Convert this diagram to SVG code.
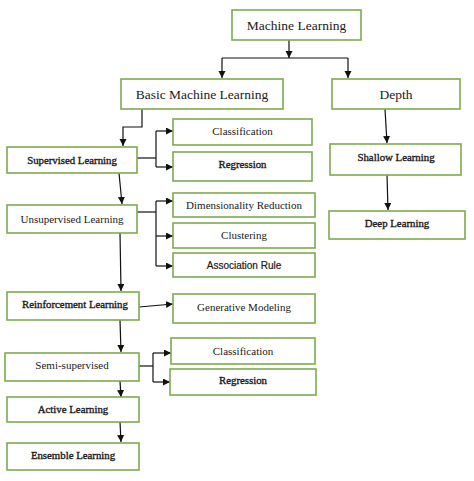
<svg xmlns="http://www.w3.org/2000/svg" width="474" height="481" viewBox="0 0 474 481">
<style>
.box{fill:#ffffff;stroke:#7eab4e;stroke-width:1.6}
.t{font-family:"Liberation Serif","Times New Roman",serif;fill:#1a1a1a;text-anchor:middle}
.big{font-size:13.5px}
.r{font-size:11px}
.b{font-size:10.8px;stroke:#1a1a1a;stroke-width:0.35}
.s{font-family:"Liberation Sans",Arial,sans-serif;font-size:10px;fill:#1a1a1a;text-anchor:middle;stroke:#1a1a1a;stroke-width:0.2}
.c{fill:none;stroke:#111111;stroke-width:1.2}
.a{marker-end:url(#ah)}
</style>
<defs>
<marker id="ah" markerUnits="userSpaceOnUse" markerWidth="8" markerHeight="8" refX="7" refY="3.5" orient="auto">
<path d="M0,0 L7,3.5 L0,7 z" fill="#111111"/>
</marker>
</defs>
<rect width="474" height="481" fill="#ffffff"/>
<g id="connectors">
<line class="c a" x1="289" y1="40" x2="289" y2="58"/>
<line class="c" x1="222" y1="58" x2="348" y2="58"/>
<line class="c a" x1="222" y1="58" x2="222" y2="78"/>
<line class="c a" x1="348" y1="58" x2="348" y2="78"/>
<polyline class="c a" points="142,109 142,127 123,127 123,146"/>
<line class="c" x1="137" y1="158" x2="156" y2="158"/>
<line class="c" x1="156" y1="131" x2="156" y2="167"/>
<line class="c a" x1="156" y1="131" x2="173" y2="131"/>
<line class="c a" x1="156" y1="167" x2="173" y2="167"/>
<line class="c a" x1="119" y1="173" x2="122" y2="204"/>
<line class="c" x1="137" y1="212" x2="156" y2="212"/>
<line class="c" x1="156" y1="201" x2="156" y2="266"/>
<line class="c a" x1="156" y1="201" x2="173" y2="201"/>
<line class="c a" x1="156" y1="236" x2="173" y2="236"/>
<line class="c a" x1="156" y1="266" x2="173" y2="266"/>
<line class="c a" x1="120" y1="233" x2="121" y2="291"/>
<line class="c a" x1="139" y1="307" x2="173" y2="304"/>
<line class="c a" x1="120" y1="320" x2="121" y2="352"/>
<line class="c" x1="139" y1="366" x2="153" y2="366"/>
<line class="c" x1="153" y1="353" x2="153" y2="382"/>
<line class="c a" x1="153" y1="353" x2="171" y2="353"/>
<line class="c a" x1="153" y1="382" x2="170" y2="382"/>
<line class="c a" x1="120" y1="381" x2="121" y2="397"/>
<line class="c a" x1="120" y1="422" x2="121" y2="442"/>
<line class="c a" x1="385" y1="109" x2="387" y2="143"/>
<line class="c a" x1="387" y1="175" x2="388" y2="210"/>
</g>
<g id="ml"><rect class="box" x="232" y="10" width="129" height="30"/><text class="t big" x="296.5" y="29.5">Machine Learning</text></g>
<g id="basic"><rect class="box" x="121" y="79" width="162" height="30"/><text class="t big" x="202" y="98.5">Basic Machine Learning</text></g>
<g id="depth"><rect class="box" x="332" y="79" width="128" height="30"/><text class="t big" x="396" y="98.5">Depth</text></g>
<g id="supervised"><rect class="box" x="7" y="147" width="130" height="26"/><text class="t b" x="72" y="163.5">Supervised Learning</text></g>
<g id="classification1"><rect class="box" x="173" y="119" width="139" height="26"/><text class="t r" x="242.5" y="134.5">Classification</text></g>
<g id="regression1"><rect class="box" x="173" y="152" width="139" height="29"/><text class="t b" x="242.5" y="167.5">Regression</text></g>
<g id="unsupervised"><rect class="box" x="7" y="205" width="130" height="28"/><text class="t r" x="72" y="222.5">Unsupervised Learning</text></g>
<g id="dimred"><rect class="box" x="173" y="193" width="142" height="24"/><text class="t r" x="244" y="208.5">Dimensionality Reduction</text></g>
<g id="clustering"><rect class="box" x="173" y="223" width="142" height="25"/><text class="t r" x="244" y="239">Clustering</text></g>
<g id="association"><rect class="box" x="173" y="253" width="142" height="24"/><text class="s" x="244" y="268.5">Association Rule</text></g>
<g id="reinforcement"><rect class="box" x="7" y="292" width="132" height="28"/><text class="t b" x="75" y="307.5">Reinforcement Learning</text></g>
<g id="generative"><rect class="box" x="173" y="294" width="142" height="29"/><text class="t r" x="244" y="310.5">Generative Modeling</text></g>
<g id="semi"><rect class="box" x="5" y="353" width="134" height="28"/><text class="t r" x="72" y="368.5">Semi-supervised</text></g>
<g id="classification2"><rect class="box" x="171" y="338" width="144" height="26"/><text class="t r" x="243" y="354.5">Classification</text></g>
<g id="regression2"><rect class="box" x="170" y="369" width="146" height="26"/><text class="t b" x="243" y="383.5">Regression</text></g>
<g id="active"><rect class="box" x="7" y="397" width="132" height="25"/><text class="t b" x="73" y="413">Active Learning</text></g>
<g id="ensemble"><rect class="box" x="7" y="443" width="132" height="27"/><text class="t b" x="73" y="458.5">Ensemble Learning</text></g>
<g id="shallow"><rect class="box" x="330" y="144" width="131" height="31"/><text class="t b" x="396" y="160.5">Shallow Learning</text></g>
<g id="deep"><rect class="box" x="329" y="211" width="136" height="28"/><text class="t b" x="397" y="226.5">Deep Learning</text></g>
</svg>
